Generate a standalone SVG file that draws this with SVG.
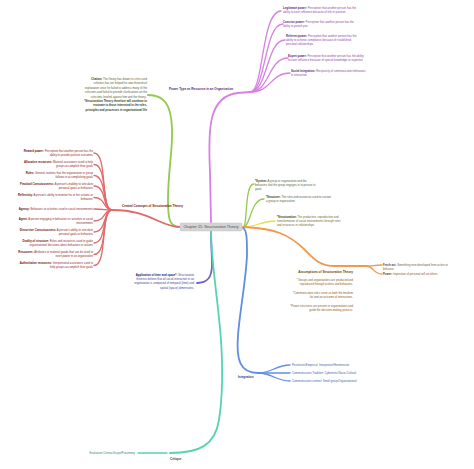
<svg xmlns="http://www.w3.org/2000/svg" width="474" height="469" viewBox="0 0 474 469">
<style>
text{font-family:"Liberation Sans",Arial,sans-serif;font-size:2.8px}
.bd{font-weight:bold}
.lab{font-weight:bold;font-size:3.1px}
.e{text-anchor:end}
.ln{fill:none;stroke-linecap:round}
.m{stroke-width:1.8}
.c{stroke-width:1.3}
.pu{stroke:#d681e3}.rd{stroke:#e06a6a}.gr{stroke:#93c94e}.ye{stroke:#e4e04a}.or{stroke:#ef9a4c}.bl{stroke:#5f8ee3}.te{stroke:#56d3b1}.in{stroke:#6f5fc9}
.tpu{fill:#8a48a0}.tpub{fill:#5c1f6d}
.trd{fill:#8f2a2a}.trdb{fill:#6a1111}
.tgr{fill:#55623a}.tgrb{fill:#2f3d14}
.tye{fill:#6b6a30}.tor{fill:#8a5a28}.torb{fill:#5f3a10}
.tbl{fill:#3f5f9f}.tblb{fill:#243c78}
.tte{fill:#3f7a6c}.tteb{fill:#1f4f42}
.tin{fill:#454090}.tinb{fill:#22205f}
</style>
<rect width="474" height="469" fill="#ffffff"/>
<g id="connectors">
<!-- purple -->
<path class="ln m pu" d="M211,223 L210,172 C208,130 208,96 238,93 L250,92"/>
<path class="ln c pu" d="M250,92 C264,92 261,11 281,11"/>
<path class="ln c pu" d="M250,92 C266,92 264,24 283,24"/>
<path class="ln c pu" d="M250,92 C268,92 266,40 285,40"/>
<path class="ln c pu" d="M250,92 C270,92 268,58 288,58"/>
<path class="ln c pu" d="M250,92 C272,92 270,73 290,73"/>
<!-- green left -->
<path class="ln m gr" d="M180,227 C169,227 168,218 168,200 C168,170 173,150 172,128 C171,104 164,95 148,95"/>
<!-- red -->
<path class="ln m rd" d="M180,227 C160,227 150,210 112,210"/>
<path class="ln c rd" d="M112,210 C100,210 108,153 94,153"/>
<path class="ln c rd" d="M112,210 C101,210 108,164.5 94,164.5"/>
<path class="ln c rd" d="M112,210 C102,210 107,175.5 94,175.5"/>
<path class="ln c rd" d="M112,210 C102,210 107,186 94,186"/>
<path class="ln c rd" d="M112,210 C103,210 106,197.5 94,197.5"/>
<path class="ln c rd" d="M112,210 C104,210 105,209 94,209"/>
<path class="ln c rd" d="M112,210 C103,210 106,221 94,221"/>
<path class="ln c rd" d="M112,210 C103,210 107,232 94,232"/>
<path class="ln c rd" d="M112,210 C102,210 107,243 94,243"/>
<path class="ln c rd" d="M112,210 C101,210 108,254.5 94,254.5"/>
<path class="ln c rd" d="M112,210 C100,210 108,265.5 94,265.5"/>
<!-- indigo -->
<path class="ln m in" d="M211,231 C211,245 212,255 212,265 C212,278 207,283 197,283"/>
<!-- teal -->
<path class="ln m te" d="M211,231 C211,260 218,300 221,340 C223,370 222,400 219,420 C215,445 200,453 170,453"/>
<path class="ln c te" d="M167,453 L138,453"/>
<!-- green right -->
<path class="ln c gr" d="M243,227 C248,227 244,184 254,184"/>
<path class="ln c gr" d="M243,227 C251,227 250,199 264,199"/>
<!-- yellow -->
<path class="ln c ye" d="M243,227 C256,227 262,221 275,221"/>
<!-- orange -->
<path class="ln m or" d="M243,227 C275,228 290,235 305,250 C315,260 320,266 335,266 L366,266"/>
<path class="ln c or" d="M366,266 C373,266 374,265 382,265"/>
<path class="ln c or" d="M366,266 C374,266 373,274 382,274"/>
<!-- blue -->
<path class="ln m bl" d="M243,228 C247,230 247,240 247,255 C246,280 240,310 238,335 C236,360 240,373 258,373"/>
<path class="ln c bl" d="M258,373 C272,373 276,365 290,365"/>
<path class="ln c bl" d="M258,373 L290,373"/>
<path class="ln c bl" d="M258,373 C272,373 276,381 290,381"/>
</g>
<g id="center">
<rect x="180" y="223" width="62" height="8" rx="1" fill="#d4d4d4" stroke="#bdbdbd" stroke-width="0.4"/>
<text x="211" y="228.4" text-anchor="middle" style="font-size:3.8px" fill="#505050">Chapter 15: Structuration Theory</text>
</g>
<g id="power-types">
<text x="169" y="90" class="lab tpub">Power Type as Resource in an Organization</text>
</g>
<g id="legitimate"><text x="283" y="9" class="tpu"><tspan class="bd tpub">Legitimate power:</tspan> Perception that another person has the</text><text x="283" y="13" class="tpu">ability to exert influence because of title or position</text></g>
<g id="coercive"><text x="283" y="22.5" class="tpu"><tspan class="bd tpub">Coercive power:</tspan> Perception that another person has the</text><text x="283" y="26.5" class="tpu">ability to punish you</text></g>
<g id="referent"><text x="286" y="37" class="tpu"><tspan class="bd tpub">Referent power:</tspan> Perception that another person has the</text><text x="286" y="41" class="tpu">ability to achieve compliance because of established</text><text x="286" y="45" class="tpu">personal relationships</text></g>
<g id="expert"><text x="288" y="56.5" class="tpu"><tspan class="bd tpub">Expert power:</tspan> Perception that another person has the ability</text><text x="288" y="60.5" class="tpu">to exert influence because of special knowledge or expertise</text></g>
<g id="social"><text x="291" y="71.5" class="tpu"><tspan class="bd tpub">Social integration:</tspan> Reciprocity of communication behaviors</text><text x="291" y="75.5" class="tpu">in interaction</text></g>
<g id="citation" class="tgr">
<text x="147" y="80" class="e"><tspan class="bd tgrb">Citation:</tspan> The theory has drawn its critics and</text>
<text x="147" y="84.4" class="e">scholars has not helped his own theoretical</text>
<text x="147" y="88.8" class="e">explanation since he failed to address many of the</text>
<text x="147" y="93.2" class="e">criticisms and failed to provide clarifications on the</text>
<text x="147" y="97.6" class="e">criticisms leveled against him and the theory..</text>
<text x="147" y="102" class="e bd tgrb">*Structuration Theory therefore will continue to</text>
<text x="147" y="106.4" class="e bd tgrb">resonate to those interested in the roles,</text>
<text x="147" y="110.8" class="e bd tgrb">principles and processes in organizational life</text>
</g>
<g id="central-concepts"><text x="122" y="206.5" class="lab trdb">Central Concepts of Structuration Theory</text></g>
<g id="reward"><text x="93" y="151.5" class="e trd"><tspan class="bd trdb">Reward power:</tspan> Perception that another person has the</text><text x="93" y="155.5" class="e trd">ability to provide positive outcomes</text></g>
<g id="allocative"><text x="93" y="163" class="e trd"><tspan class="bd trdb">Allocative resources:</tspan> Material assistance used to help</text><text x="93" y="167" class="e trd">groups accomplish their goals</text></g>
<g id="rules"><text x="93" y="174" class="e trd"><tspan class="bd trdb">Rules:</tspan> General routines that the organization or group</text><text x="93" y="178" class="e trd">follows in accomplishing goals</text></g>
<g id="practical"><text x="93" y="184.5" class="e trd"><tspan class="bd trdb">Practical Consciousness:</tspan> A person's inability to articulate</text><text x="93" y="188.5" class="e trd">personal goals or behaviors</text></g>
<g id="reflexivity"><text x="93" y="196" class="e trd"><tspan class="bd trdb">Reflexivity:</tspan> A person's ability to monitor his or her actions or</text><text x="93" y="200" class="e trd">behaviors</text></g>
<g id="agency"><text x="93" y="210" class="e trd"><tspan class="bd trdb">Agency:</tspan> Behaviors or activities used in social environments</text></g>
<g id="agent"><text x="93" y="219.5" class="e trd"><tspan class="bd trdb">Agent:</tspan> A person engaging in behaviors or activities in social</text><text x="93" y="223.5" class="e trd">environments</text></g>
<g id="discursive"><text x="93" y="230.5" class="e trd"><tspan class="bd trdb">Discursive Consciousness:</tspan> A person's ability to articulate</text><text x="93" y="234.5" class="e trd">personal goals or behaviors</text></g>
<g id="duality"><text x="93" y="241.5" class="e trd"><tspan class="bd trdb">Duality of structure:</tspan> Rules and resources used to guide</text><text x="93" y="245.5" class="e trd">organizational decisions about behaviors or actions</text></g>
<g id="resources"><text x="93" y="253" class="e trd"><tspan class="bd trdb">Resources:</tspan> Attributes or material goods that can be used to</text><text x="93" y="257" class="e trd">exert power in an organization</text></g>
<g id="authoritative"><text x="93" y="264" class="e trd"><tspan class="bd trdb">Authoritative resources:</tspan> Interpersonal assistance used to</text><text x="93" y="268" class="e trd">help groups accomplish their goals</text></g>
<g id="application" class="tin">
<text x="194" y="276" class="e"><tspan class="bd tinb">Application of time and space*:</tspan> Structuration</text>
<text x="194" y="280.2" class="e">theorists believe that all social interaction in an</text>
<text x="194" y="284.4" class="e">organization is composed of temporal (time) and</text>
<text x="194" y="288.6" class="e">spatial (space) dimensions.</text>
</g>
<g id="system" class="tgr"><text x="255" y="181.5"><tspan class="bd tgrb">*System:</tspan> A group or organization and the</text><text x="255" y="185.5">behaviors that the group engages in to pursue its</text><text x="255" y="189.5">goals</text></g>
<g id="structure" class="tgr"><text x="266" y="197.5"><tspan class="bd tgrb">*Structure:</tspan> The rules and resources used to sustain</text><text x="266" y="201.5">a group or organization</text></g>
<g id="structuration" class="tye"><text x="277" y="217.5"><tspan class="bd tgrb">*Structuration:</tspan> The production, reproduction and</text><text x="277" y="221.5">transformation of social environments through rules</text><text x="277" y="225.5">and resources in relationships</text></g>
<g id="assumptions" class="tor">
<text x="353" y="272.5" class="e lab torb">Assumptions of Structuration Theory</text>
<text x="353" y="280.5" class="e">* Groups and organizations are produced and</text>
<text x="353" y="284.5" class="e">reproduced through actions and behaviors.</text>
<text x="353" y="293.5" class="e">*Communication rules serve as both the medium</text>
<text x="353" y="297.5" class="e">for and an outcome of interactions.</text>
<text x="353" y="306.5" class="e">*Power structures are present in organizations and</text>
<text x="353" y="310.5" class="e">guide the decision-making process.</text>
</g>
<g id="fresh-act" class="tor"><text x="383" y="265.5"><tspan class="bd torb">Fresh act:</tspan> Something new developed from action or</text><text x="383" y="269.5">behavior</text></g>
<g id="power" class="tor"><text x="383" y="275"><tspan class="bd torb">Power:</tspan> Imposition of personal will on others</text></g>
<g id="integration" class="tbl">
<text x="238" y="377.5" class="bd tblb" style="font-size:3px">Integration</text>
</g>
<g id="positivistic" class="tbl"><text x="292" y="366">Positivistic/Empirical: Interpretive/Hermeneutic</text></g>
<g id="tradition" class="tbl"><text x="292" y="374">Communication Tradition: Cybernetic/Socio-Cultural</text></g>
<g id="context" class="tbl"><text x="292" y="382">Communication context: Small group/Organizational</text></g>
<g id="critique" class="tte"><text x="170" y="460" class="bd tteb" style="font-size:3px">Critique</text></g>
<g id="evaluation" class="tte"><text x="135" y="454" class="e">Evaluation Criteria:Scope/Parsimony</text></g>
</svg>
